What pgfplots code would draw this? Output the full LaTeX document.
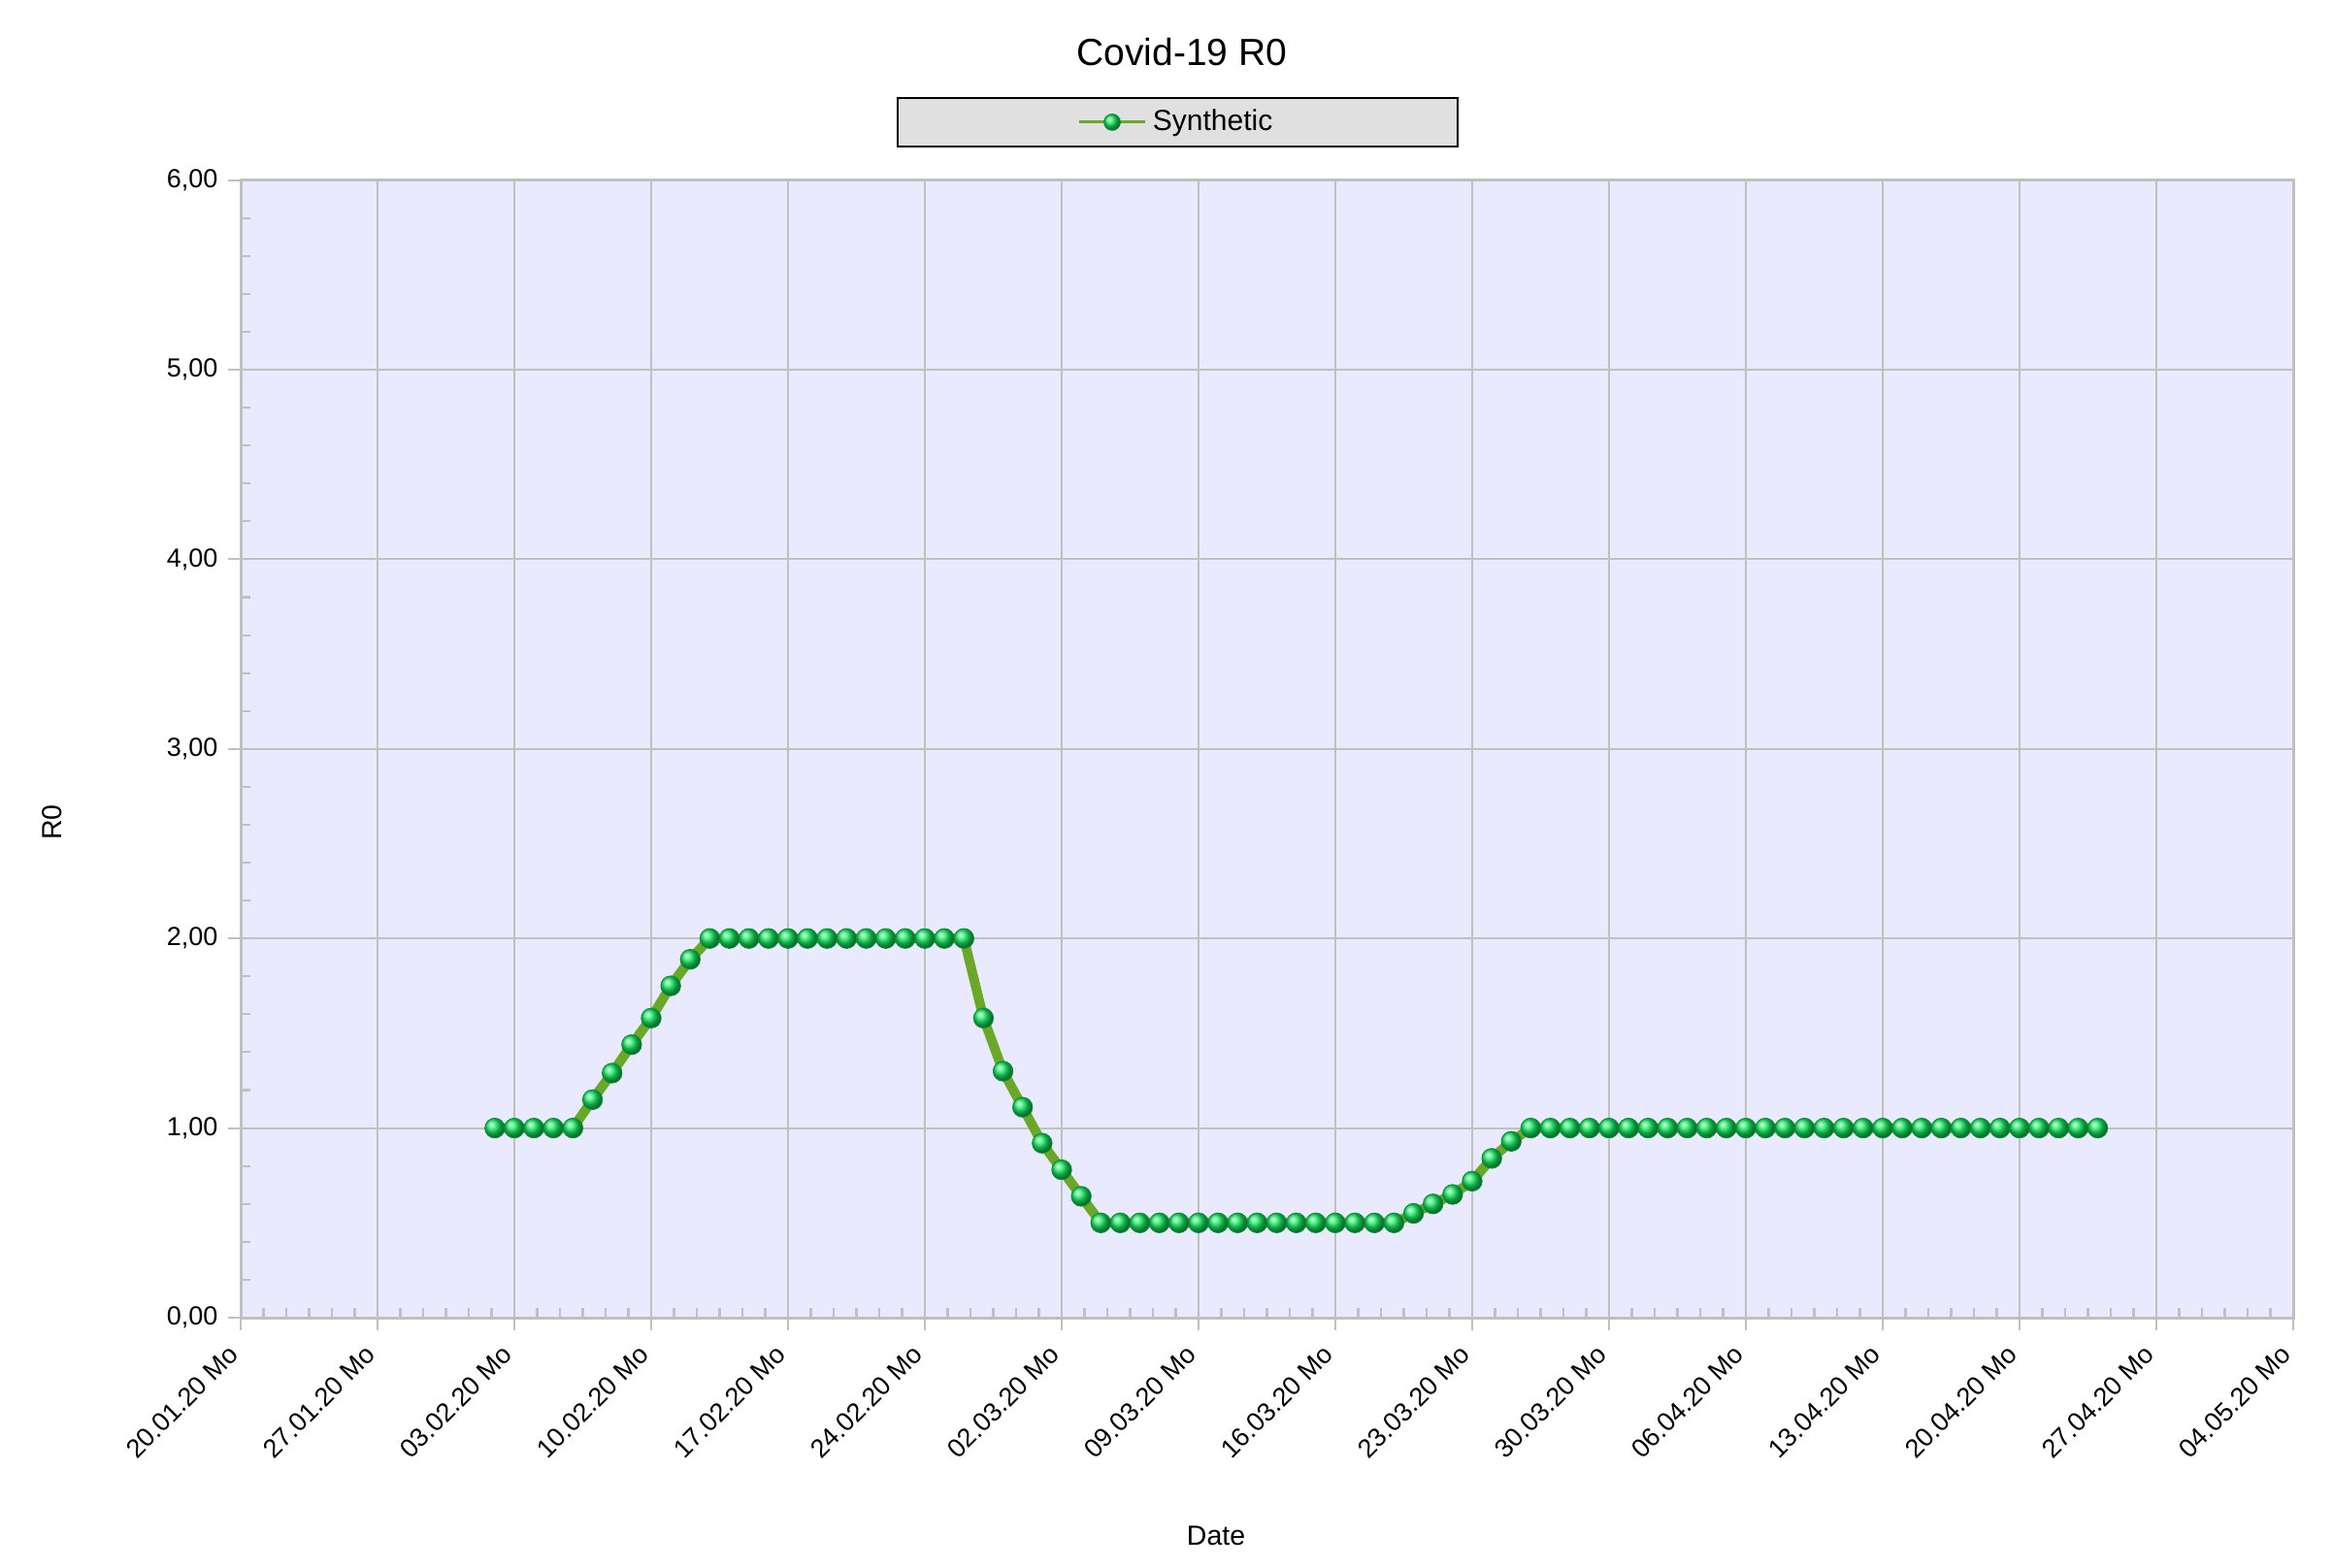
\documentclass[border=0pt]{standalone}
\usepackage{fontspec}
\setmainfont{Liberation Sans}
\usepackage{pgfplots}
\pgfplotsset{compat=1.18}
\usepackage{pgfplotstable}

\definecolor{plotbg}{RGB}{233,234,253}
\definecolor{gridgray}{RGB}{192,192,192}
\definecolor{linegreen}{RGB}{106,168,42}
\definecolor{markgreen}{RGB}{20,235,95}
\definecolor{legendgray}{RGB}{224,224,224}

% day 0 = 20.01.2020
\pgfplotstableread{
day r0
13 1.00
14 1.00
15 1.00
16 1.00
17 1.00
18 1.15
19 1.29
20 1.44
21 1.58
22 1.75
23 1.89
24 2.00
25 2.00
26 2.00
27 2.00
28 2.00
29 2.00
30 2.00
31 2.00
32 2.00
33 2.00
34 2.00
35 2.00
36 2.00
37 2.00
38 1.58
39 1.30
40 1.11
41 0.92
42 0.78
43 0.64
44 0.50
45 0.50
46 0.50
47 0.50
48 0.50
49 0.50
50 0.50
51 0.50
52 0.50
53 0.50
54 0.50
55 0.50
56 0.50
57 0.50
58 0.50
59 0.50
60 0.55
61 0.60
62 0.65
63 0.72
64 0.84
65 0.93
66 1.00
67 1.00
68 1.00
69 1.00
70 1.00
71 1.00
72 1.00
73 1.00
74 1.00
75 1.00
76 1.00
77 1.00
78 1.00
79 1.00
80 1.00
81 1.00
82 1.00
83 1.00
84 1.00
85 1.00
86 1.00
87 1.00
88 1.00
89 1.00
90 1.00
91 1.00
92 1.00
93 1.00
94 1.00
95 1.00
}\rzero

\begin{document}
\begin{tikzpicture}
\path[use as bounding box] (-82.67pt,-86pt) rectangle (718.67pt,452.67pt);
\begin{axis}[
  at={(0,0)}, anchor=south west,
  scale only axis,
  width=705pt, height=390.8pt,
  xmin=0, xmax=105, ymin=0, ymax=6,
  enlargelimits=false,
  axis background/.style={fill=plotbg},
  axis line style={gridgray, line width=1pt},
  grid=major,
  major grid style={gridgray, line width=0.7pt},
  tick pos=left,
  tick align=center,
  major tick length=8.6pt,
  minor tick length=3.3pt,
  tick style={gridgray, line width=0.7pt},
  minor x tick style={yshift=1.65pt},
  minor y tick style={xshift=1.65pt},
  xtick={0,7,...,105},
  minor x tick num=5,
  xticklabels={20.01.20 Mo,27.01.20 Mo,03.02.20 Mo,10.02.20 Mo,17.02.20 Mo,24.02.20 Mo,02.03.20 Mo,09.03.20 Mo,16.03.20 Mo,23.03.20 Mo,30.03.20 Mo,06.04.20 Mo,13.04.20 Mo,20.04.20 Mo,27.04.20 Mo,04.05.20 Mo},
  xticklabel style={xshift=-1.6pt, yshift=-0.2pt, rotate=45, anchor=east, inner sep=1pt, font=\fontsize{9}{11}\selectfont},
  xticklabel shift=5.9pt,
  ytick={0,1,...,6},
  minor y tick num=4,
  yticklabel style={font=\fontsize{9}{11}\selectfont},
  /pgf/number format/.cd, fixed, fixed zerofill, precision=2, use comma, assume math mode=true,
  /pgfplots/.cd,
  every axis title shift=0pt,
  title={Covid-19 R0},
  title style={at={(axis description cs:0.4586,1.113)}, anchor=center, font=\fontsize{13}{15}\selectfont},
  xlabel={Date},
  xlabel style={at={(axis description cs:0.4752,-0.1919)}, anchor=center, font=\fontsize{9.5}{11}\selectfont},
  ylabel={R0},
  ylabel style={at={(axis description cs:-0.0918,0.4355)}, anchor=center, font=\fontsize{9.5}{11}\selectfont},
  legend style={at={(axis description cs:0.4566,1.0509)}, anchor=center,
    draw=black, line width=0.6pt, fill=legendgray,
    inner xsep=61.6pt, inner ysep=2pt,
    font=\fontsize{10}{12}\selectfont},
  legend image code/.code={
    \draw[linegreen, line width=1pt] (0pt,0pt) -- (22.9pt,0pt);
    \path plot[mark=ball, mark size=2.8pt,
      mark options={ball color=markgreen, line width=0.3pt, draw=markgreen!60!black}]
      coordinates {(11.45pt,0pt)};
  },
]
\addplot[color=linegreen, line width=3.3pt, line join=round,
  mark=ball, mark size=3.4pt,
  mark options={ball color=markgreen, line width=0.3pt, draw=markgreen!60!black}]
  table[x=day, y=r0] {\rzero};
\addlegendentry{Synthetic}
\end{axis}
\end{tikzpicture}
\end{document}
